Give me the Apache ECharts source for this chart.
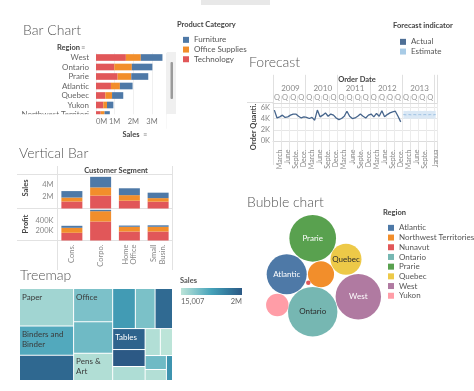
<!DOCTYPE html>
<html><head><meta charset="utf-8">
<script src="https://cdn.jsdelivr.net/npm/echarts@6/dist/echarts.min.js"></script>
<style>html,body{margin:0;padding:0;background:#fff}#c{width:474px;height:391px}</style>
</head><body><div id="c"></div>
<script>
// ================= DATA =================
const productCategories = ['Furniture', 'Office Supplies', 'Technology'];

// Bar chart (Sales by Region, millions)
const regions = ['West', 'Ontario', 'Prarie', 'Atlantic', 'Quebec', 'Yukon', 'Northwest Territori', 'Nunavut'];
const regionSalesTechnology = [1.60, 0.98, 1.16, 0.80, 0.50, 0.39, 0.25, 0.05];
const regionSalesOfficeSupplies = [0.80, 0.94, 0.73, 0.48, 0.36, 0.20, 0.21, 0.04];
const regionSalesFurniture = [1.16, 1.10, 0.91, 0.68, 0.60, 0.34, 0.28, 0.03];

// Forecast (Order Quantity, thousands per month)
const forecastYears = [2009, 2010, 2011, 2012, 2013, 2014];
const monthHeaderNames = ['Janua', 'Febr.', 'March', 'April', 'May', 'June', 'July', 'Augu.', 'Septe.', 'Octo.', 'Nove.', 'Dece.'];
const actualQty = [5.5, 4.1, 4.3, 4.6, 4.2, 4.3, 4.6, 4.8, 4.8, 4.4, 4.1, 4.3,
                   4.2, 4.0, 4.2, 3.7, 5.5, 4.3, 4.6, 5.0, 4.4, 4.8, 4.6, 4.1,
                   3.8, 4.0, 4.4, 5.3, 4.4, 4.0, 4.1, 4.4, 4.8, 4.4, 4.1, 4.6,
                   4.8, 4.3, 4.9, 4.4, 5.4, 4.3, 4.7, 5.0, 5.2, 5.3, 4.4, 3.4];
const estimateQty = [4.7, 4.65, 4.7, 4.65, 4.7, 4.65, 4.7, 4.65, 4.7, 4.65, 4.7, 4.65, 4.7];
const estimateLow = [4.0, 3.95, 4.0, 3.95, 4.0, 3.95, 4.0, 3.95, 4.0, 3.95, 4.0, 3.95, 4.0];
const estimateHigh = [5.4, 5.35, 5.4, 5.35, 5.4, 5.35, 5.4, 5.35, 5.4, 5.35, 5.4, 5.35, 5.4];

// Vertical bar (Customer Segment): sales in M, profit in K
const segments = ['Cons.', 'Corpo.', 'Home\nOffice', 'Small\nBusin.'];
const segSalesTechnology = [1.20, 2.20, 1.33, 1.17];
const segSalesOfficeSupplies = [0.67, 1.40, 0.95, 0.60];
const segSalesFurniture = [1.10, 1.80, 1.17, 0.93];
const segProfitTechnology = [154, 380, 180, 180];
const segProfitOfficeSupplies = [100, 206, 94, 94];
const segProfitFurniture = [40, 28, 25, 30];

// Treemap (size = record count, colour = sales in M)
const subCategories = ['Paper', 'Binders and Binder Accessories', 'Telephones and Communication', 'Office Furnishings',
  'Storage & Organization', 'Pens & Art Supplies', 'Computer Peripherals', 'Appliances', 'Office Machines', 'Tables',
  'Chairs & Chairmats', 'Envelopes', 'Labels', 'Rubber Bands', 'Copiers and Fax', 'Scissors, Rulers and Trimmers', 'Bookcases'];
const subCatCount = [1998, 1566, 1350, 1287, 1209, 1053, 897, 780, 690, 672, 544, 448, 405, 324, 294, 231, 150];
const subCatSales = [0.24, 0.90, 1.80, 0.55, 0.66, 0.11, 1.10, 0.56, 1.76, 1.86, 2.00, 0.13, 0.10, 0.015, 0.66, 0.09, 1.20];
const subCatLabels = ['Paper', 'Binders and\nBinder', '', 'Office', '', 'Pens &\nArt', '', '', '', 'Tables', '', '', '', '', '', '', ''];
const treemapLegendTicks = ['15,007', '2M'];

// Bubble chart (packed bubbles by Region)
const bubbleRegions = ['Atlantic', 'Northwest Territories', 'Nunavut', 'Ontario', 'Prarie', 'Quebec', 'West', 'Yukon'];
const bubbleValue = [2.0, 0.85, 0.025, 3.05, 2.72, 1.2, 2.58, 0.63];
const bubblePackX = [36.7, 71, 58.3, 62.7, 62.7, 96, 108.3, 27.3];
const bubblePackY = [64.3, 64.3, 72.7, 101.7, 28.3, 49.3, 86.7, 95];
const bubbleLabelShown = [true, false, false, true, true, true, true, false];

// ================= STYLE =================
const FONT = 'Lato, "Open Sans", sans-serif';
const catColors = { 'Furniture': '#4e79a7', 'Office Supplies': '#f28e2b', 'Technology': '#e15759' };
const regionColors = ['#4e79a7', '#f28e2b', '#e15759', '#76b7b2', '#59a14f', '#edc948', '#b07aa1', '#ff9da7'];
const bubbleLabelColors = ['#fff', '#fff', '#fff', '#2b2b2b', '#fff', '#2b2b2b', '#fff', '#fff'];

const chart = echarts.init(document.getElementById('c'));

const monthCats = [];
forecastYears.forEach(y => { for (let m = 0; m < 12; m++) { if (y === 2014 && m > 0) break; monthCats.push(y + '-' + (m + 1)); } });
const nActual = actualQty.length;
const pad = n => new Array(n).fill(null);
const actualSeries = actualQty.concat(pad(monthCats.length - nActual));
const estSeries = pad(nActual).concat(estimateQty);
const estLowSeries = pad(nActual).concat(estimateLow);
const estBandSeries = pad(nActual).concat(estimateHigh.map((h, i) => +(h - estimateLow[i]).toFixed(2)));

// ================= GRAPHICS (titles, headers, borders) =================
const graphics = [];
function txt(text, x, y, o = {}) {
  graphics.push({ type: 'text', x, y, rotation: o.rot || 0, z: o.z || 20, silent: true,
    style: { text, fill: o.color || '#333', fontSize: o.size || 8, fontFamily: FONT, fontWeight: o.bold ? 'bold' : (o.weight || 'normal'),
      textAlign: o.align || 'left', align: o.align || 'left', textVerticalAlign: 'middle', verticalAlign: 'middle' } });
}
function ln(x1, y1, x2, y2, c) { graphics.push({ type: 'line', z: 1, silent: true, shape: { x1, y1, x2, y2 }, style: { stroke: c || '#e2e2e2', lineWidth: 1 } }); }
function rc(x, y, w, h, fill, z, r) { graphics.push({ type: 'rect', z: z || 1, silent: true, shape: { x, y, width: w, height: h, r: r || 0 }, style: { fill } }); }
const T = { size: 14, color: '#555', weight: 300 };

rc(201, 0, 69, 5, '#e8e8e8');
// Bar chart
txt('Bar Chart', 23, 30, T);
txt('Region', 57, 48, { bold: true, size: 7.5, color: '#444' });
txt('\u2261', 81, 48, { size: 7, color: '#888' });
rc(167, 52, 9, 62, '#f0f0f0');
rc(170.5, 62, 2.5, 37, '#9a9a9a', 2, 1);
rc(0, 114.3, 166.5, 16, '#fff', 5);
txt('Sales', 131, 135, { bold: true, size: 7.5, color: '#444', align: 'center' });
txt('\u2261', 143, 135, { size: 7, color: '#888' });
txt('Product Category', 177, 25, { bold: true, size: 7.5, color: '#444' });
// Forecast
txt('Forecast', 249, 62, T);
txt('Forecast indicator', 393, 26, { bold: true, size: 7.5, color: '#444' });
txt('Order Date', 357, 80, { bold: true, size: 7.5, color: '#444', align: 'center' });
txt('Order Quanti.', 254, 127, { bold: true, size: 7.5, color: '#444', align: 'center', rot: Math.PI / 2 });
ln(247, 102.5, 273, 102.5, '#dedede');
// Vertical bar
txt('Vertical Bar', 19, 153, T);
txt('Customer Segment', 116, 171, { bold: true, size: 7.5, color: '#444', align: 'center' });
txt('Sales', 26, 188, { bold: true, size: 7.5, color: '#444', align: 'center', rot: Math.PI / 2 });
txt('Profit', 26, 224, { bold: true, size: 7.5, color: '#444', align: 'center', rot: Math.PI / 2 });
ln(57.5, 166, 57.5, 270); ln(172.5, 166, 172.5, 270);
ln(17, 174.5, 172.5, 174.5); ln(17, 208.5, 172.5, 208.5); ln(17, 240.5, 172.5, 240.5);
// Treemap
txt('Treemap', 20, 275, T);
txt('Sales', 180, 281, { bold: true, size: 7.5, color: '#555' });
graphics.push({ type: 'rect', silent: true, z: 2, shape: { x: 181, y: 288, width: 61, height: 7 },
  style: { fill: new echarts.graphic.LinearGradient(0, 0, 1, 0, [
    { offset: 0, color: '#bce4d8' }, { offset: 0.25, color: '#81c4ca' }, { offset: 0.5, color: '#45a2b9' },
    { offset: 0.75, color: '#347da0' }, { offset: 1, color: '#2c5985' }]) } });
txt(treemapLegendTicks[0], 181, 302, { size: 7.5, color: '#666' });
txt(treemapLegendTicks[1], 242, 302, { size: 7.5, color: '#666', align: 'right' });
// Bubble
txt('Bubble chart', 247, 202, T);
txt('Region', 383, 213, { bold: true, size: 7.5, color: '#444' });

// ================= OPTION =================
const axisLbl = { fontSize: 8, color: '#777', fontFamily: FONT };
const legendText = { fontSize: 8, color: '#555', fontFamily: FONT, lineHeight: 9.7 };

function stackBar(name, data, xi, yi, stack, horiz) {
  return { type: 'bar', name, data, xAxisIndex: xi, yAxisIndex: yi, stack, itemStyle: { color: catColors[name] },
    barCategoryGap: horiz ? '30%' : '27%', emphasis: { disabled: true } };
}

const series = [
  stackBar('Technology', regionSalesTechnology, 0, 0, 'h', true),
  stackBar('Office Supplies', regionSalesOfficeSupplies, 0, 0, 'h', true),
  stackBar('Furniture', regionSalesFurniture, 0, 0, 'h', true),
  { type: 'line', name: 'Actual', data: actualSeries, xAxisIndex: 2, yAxisIndex: 2, symbol: 'none',
    lineStyle: { color: '#46658c', width: 1.3 }, itemStyle: { color: '#46658c' } },
  { type: 'line', name: 'Estimate low', data: estLowSeries, xAxisIndex: 2, yAxisIndex: 2, stack: 'band', symbol: 'none',
    lineStyle: { opacity: 0 } },
  { type: 'line', name: 'Estimate', data: estBandSeries, xAxisIndex: 2, yAxisIndex: 2, stack: 'band', symbol: 'none',
    lineStyle: { opacity: 0 }, areaStyle: { color: '#dae8f5', opacity: 1 }, itemStyle: { color: '#a8cbe6' } },
  { type: 'line', name: 'Estimate', data: estSeries, xAxisIndex: 2, yAxisIndex: 2, symbol: 'none',
    lineStyle: { color: '#9cc0e2', width: 1, type: [3, 2] }, itemStyle: { color: '#a8cbe6' } },
  stackBar('Technology', segSalesTechnology, 5, 3, 's'),
  stackBar('Office Supplies', segSalesOfficeSupplies, 5, 3, 's'),
  stackBar('Furniture', segSalesFurniture, 5, 3, 's'),
  stackBar('Technology', segProfitTechnology, 6, 4, 'p'),
  stackBar('Office Supplies', segProfitOfficeSupplies, 6, 4, 'p'),
  stackBar('Furniture', segProfitFurniture, 6, 4, 'p'),
  {
    type: 'treemap', left: 20, top: 289, width: 152, height: 91, roam: false, nodeClick: false,
    breadcrumb: { show: false }, visualDimension: 1, squareRatio: 0.5 * (1 + Math.sqrt(5)),
    label: { show: true, position: 'insideTopLeft', fontSize: 8, fontFamily: FONT, color: '#3a3a3a', padding: [3, 2, 0, 2], lineHeight: 10 },
    itemStyle: { borderWidth: 0 },
    emphasis: { disabled: true },
    levels: [{ color: ['#bce4d8', '#81c4ca', '#45a2b9', '#347da0', '#2c5985'], colorMappingBy: 'value',
      visualMin: 0.015, visualMax: 2.0, itemStyle: { gapWidth: 1, borderColor: '#fff', borderWidth: 0 } }],
    data: subCategories.map((n, i) => ({ name: n, value: [subCatCount[i], subCatSales[i]],
      label: { show: subCatLabels[i] !== '', formatter: subCatLabels[i], color: subCatSales[i] > 1.5 ? '#fff' : '#3a3a3a' } }))
  }
];
bubbleRegions.forEach((r, i) => {
  series.push({ type: 'scatter', name: r, xAxisIndex: 7, yAxisIndex: 5, clip: false,
    data: [[bubblePackX[i], bubblePackY[i], bubbleValue[i]]],
    symbolSize: v => Math.sqrt(v[2]) * 28.3,
    itemStyle: { color: regionColors[i], opacity: 1 },
    label: { show: bubbleLabelShown[i], formatter: r, position: 'inside', fontSize: 8, fontFamily: FONT, color: bubbleLabelColors[i] },
    emphasis: { disabled: true } });
});

const option = {
  animation: false,
  backgroundColor: '#fff',
  textStyle: { fontFamily: FONT },
  grid: [
    { left: 96, top: 52.75, width: 70, height: 76 },
    { left: 96, top: 113, width: 70, height: 1 },
    { left: 273, top: 102.8, width: 164, height: 43.8 },
    { left: 57.5, top: 174.5, width: 115, height: 34 },
    { left: 57.5, top: 208.5, width: 115, height: 32 },
    { left: 250, top: 210, width: 130, height: 130 }
  ],
  xAxis: [
    { gridIndex: 0, type: 'value', min: 0, max: 3.75, interval: 1, axisLabel: { show: false }, axisLine: { show: false }, axisTick: { show: false },
      splitLine: { lineStyle: { color: '#f0f0f0' } } },
    { gridIndex: 1, type: 'value', min: 0, max: 3.75, interval: 1, z: 10, axisLine: { show: false }, axisTick: { show: false }, splitLine: { show: false },
      axisLabel: Object.assign({}, axisLbl, { fontSize: 7.5, margin: 4, alignMinLabel: 'left', formatter: v => Number.isInteger(v) ? v + 'M' : '' }) },
    { gridIndex: 2, type: 'category', data: monthCats, position: 'bottom',
      axisLine: { lineStyle: { color: '#dcdcdc' } },
      axisTick: { show: true, interval: i => i % 3 === 0, length: 24, lineStyle: { color: '#e4e4e4' } },
      splitLine: { show: true, interval: i => i % 3 === 0, lineStyle: { color: '#ececec' } },
      axisLabel: Object.assign({}, axisLbl, { fontSize: 7, rotate: 90, margin: 3, color: '#888', hideOverlap: false,
        showMinLabel: true, showMaxLabel: true,
        interval: i => i % 3 === 2 || i === monthCats.length - 1,
        formatter: (v, i) => monthHeaderNames[+v.split('-')[1] - 1] }) },
    { gridIndex: 2, type: 'category', data: monthCats, position: 'top',
      axisLine: { show: true, lineStyle: { color: '#dcdcdc' } },
      axisTick: { show: true, interval: i => i % 3 === 0, length: 7, lineStyle: { color: '#e4e4e4' } },
      axisLabel: Object.assign({}, axisLbl, { fontSize: 7.5, margin: 1.5, color: '#999', hideOverlap: false, interval: i => i % 3 === 1, formatter: () => 'Q' }) },
    { gridIndex: 2, type: 'category', data: monthCats, position: 'top',
      axisLine: { show: false },
      axisTick: { show: true, interval: i => i % 12 === 0, length: 28, lineStyle: { color: '#e0e0e0' } },
      axisLabel: Object.assign({}, axisLbl, { fontSize: 8, margin: 10, color: '#888', interval: i => i % 12 === 6, formatter: v => v.split('-')[0] }) },
    { gridIndex: 3, type: 'category', data: segments, axisLabel: { show: false }, axisLine: { show: false }, axisTick: { show: false } },
    { gridIndex: 4, type: 'category', data: segments, axisLine: { show: false }, axisTick: { show: false },
      axisLabel: Object.assign({}, axisLbl, { fontSize: 7.5, rotate: 90, margin: 4, color: '#888', lineHeight: 8.5 }) },
    { gridIndex: 5, type: 'value', min: 0, max: 130, show: false }
  ],
  yAxis: [
    { gridIndex: 0, type: 'category', data: regions, inverse: true, axisLine: { show: false }, axisTick: { show: false },
      axisLabel: Object.assign({}, axisLbl, { fontSize: 8, color: '#666', margin: 7, interval: 0 }) },
    { gridIndex: 1, type: 'value', show: false },
    { gridIndex: 2, type: 'value', min: -1, max: 6.8, interval: 1, axisLine: { show: true, lineStyle: { color: '#dcdcdc' } }, axisTick: { show: false },
      splitLine: { lineStyle: { color: ['transparent', '#e6e6e6'] } },
      axisLabel: Object.assign({}, axisLbl, { fontSize: 7.5, margin: 3, color: '#888', formatter: v => (v >= 0 && v % 2 === 0 && Number.isInteger(v)) ? v + 'K' : '' }) },
    { gridIndex: 3, type: 'value', min: 0, max: 5.8, interval: 2, axisLine: { show: false }, axisTick: { show: false }, splitLine: { show: false },
      axisLabel: Object.assign({}, axisLbl, { fontSize: 7.5, margin: 4, color: '#888', formatter: v => (v === 2 || v === 4) ? v + 'M' : '' }) },
    { gridIndex: 4, type: 'value', min: 0, max: 640, interval: 200, axisLine: { show: false }, axisTick: { show: false }, splitLine: { show: false },
      axisLabel: Object.assign({}, axisLbl, { fontSize: 7.5, margin: 4, color: '#888', formatter: v => (v === 200 || v === 400) ? v + 'K' : '' }) },
    { gridIndex: 5, type: 'value', min: 0, max: 130, inverse: true, show: false }
  ],
  legend: [
    { orient: 'vertical', left: 178, top: 30, itemWidth: 6, itemHeight: 6, itemGap: 0, icon: 'rect', textStyle: legendText,
      selectedMode: false, data: productCategories },
    { orient: 'vertical', left: 395, top: 32, itemWidth: 6, itemHeight: 6, itemGap: 0, icon: 'rect', textStyle: legendText,
      selectedMode: false,
      data: [{ name: 'Actual', itemStyle: { color: '#4e6f96' } }, { name: 'Estimate', itemStyle: { color: '#a8cbe6' } }] },
    { orient: 'vertical', left: 383, top: 218, itemWidth: 6, itemHeight: 6, itemGap: 0, icon: 'rect', textStyle: legendText,
      selectedMode: false, data: bubbleRegions }
  ],
  graphic: graphics,
  series
};
chart.setOption(option);
</script></body></html>
